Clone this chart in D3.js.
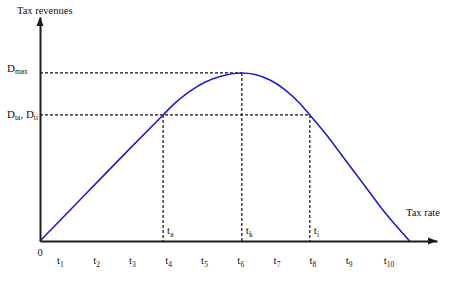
<!DOCTYPE html>
<html>
<head>
<meta charset="utf-8">
<script src="https://cdn.jsdelivr.net/npm/d3@7/dist/d3.min.js"></script>
<style>
  body { margin: 0; background: #fff; }
</style>
</head>
<body>
<svg id="chart" width="474" height="289" style="font-family: 'Liberation Serif', 'Times New Roman', 'DejaVu Serif', serif;"></svg>
<script>
// ---- data (tax rate 0..100 where revenue returns to zero; revenue 0..100 = Dmax) ----
const curveRate    = [0, 8.1, 16.2, 24.3, 33.3, 36.5, 40.6, 44.6, 48.7, 54.6, 58.2, 62.2, 66.3, 69.8, 73.0, 77.1, 82.5, 87.9, 93.3, 100];
const curveRevenue = [0, 18.3, 36.7, 55.0, 75.0, 82.0, 89.2, 94.5, 97.9, 100, 99.1, 95.8, 90.0, 83.0, 75.0, 64.3, 48.5, 32.7, 16.9, 0];
const markRates    = [33.3, 54.6, 73.0];          // t_a, t_k, t_i
const markNames    = ["a", "k", "i"];
const markRevenue  = [75, 100, 75];               // D_ta, D_max, D_ti
const levelRevenue = [100, 75];                   // Dmax, Dta/Dti
const tickPos      = [5.4, 15.2, 24.9, 34.7, 44.4, 54.2, 64.0, 73.7, 83.5, 93.8];
const tickSubs     = ["1","2","3","4","5","6","7","8","9","10"];

const FONT = "'Liberation Serif', 'Times New Roman', 'DejaVu Serif', serif";
const svg = d3.select("#chart");
const x = d3.scaleLinear().domain([0, 107.4]).range([40, 437]);
const y = d3.scaleLinear().domain([0, 133.3]).range([241, 17]);

const axisColor = "#1c1c1c";
const dash = "3,2";

// horizontal guides
levelRevenue.forEach((v, i) => {
  const xEnd = i === 0 ? markRates[1] : markRates[2];
  svg.append("line")
    .attr("x1", x(0)).attr("x2", x(xEnd))
    .attr("y1", y(v)).attr("y2", y(v))
    .attr("stroke", "#111").attr("stroke-width", 1.2).attr("stroke-dasharray", dash);
});
// vertical guides
markRates.forEach((r, i) => {
  svg.append("line")
    .attr("x1", x(r)).attr("x2", x(r))
    .attr("y1", y(markRevenue[i])).attr("y2", y(0))
    .attr("stroke", "#111").attr("stroke-width", 1.2).attr("stroke-dasharray", dash);
});

// curve
const pts = curveRate.map((r, i) => [r, curveRevenue[i]]);
svg.append("path")
  .datum(pts)
  .attr("fill", "none")
  .attr("stroke", "#1f1fc8")
  .attr("stroke-width", 1.6)
  .attr("d", d3.line().x(d => x(d[0])).y(d => y(d[1])).curve(d3.curveMonotoneX));

// axes
svg.append("g").attr("transform", `translate(0,${y(0)})`)
  .call(d3.axisBottom(x).tickValues([]).tickSizeOuter(0));
svg.append("g").attr("transform", `translate(${x(0)},0)`)
  .call(d3.axisLeft(y).tickValues([]).tickSizeOuter(0));
svg.selectAll(".domain").attr("stroke", axisColor).attr("stroke-width", 2);

// arrowheads
const xr = x.range()[1], yt = y.range()[1];
svg.append("path")
  .attr("d", `M${xr},${y(0)} L${xr - 9},${y(0) - 3.5} L${xr - 9},${y(0) + 3.5} Z`)
  .attr("fill", axisColor);
svg.append("path")
  .attr("d", `M${x(0)},${yt} L${x(0) - 3.5},${yt + 9} L${x(0) + 3.5},${yt + 9} Z`)
  .attr("fill", axisColor);

function txt(px, py, size) {
  return svg.append("text").attr("x", px).attr("y", py)
    .attr("font-size", size || 10.5).attr("font-family", FONT).attr("fill", "#111");
}

// axis titles
txt(17, 14).text("Tax revenues");
txt(406, 216).text("Tax rate");
// origin
txt(x(0), 256).attr("text-anchor", "middle").text("0");

function subLabel(px, py, main, sub) {
  const t = txt(px, py, 11);
  t.append("tspan").text(main);
  t.append("tspan").attr("font-size", 7.5).attr("dy", 2.5).text(sub);
  return t;
}

// D labels
subLabel(7, y(levelRevenue[0]) - 1, "D", "max");
{
  const t = txt(7, y(levelRevenue[1]) + 3, 11);
  t.append("tspan").text("D");
  t.append("tspan").attr("font-size", 7.5).attr("dy", 2.5).text("ta");
  t.append("tspan").attr("dy", -2.5).text(", D");
  t.append("tspan").attr("font-size", 7.5).attr("dy", 2.5).text("ti");
}

// marked rates t_a, t_k, t_i
markRates.forEach((r, i) => subLabel(x(r) + 4, y(0) - 7, "t", markNames[i]));

// tick labels t1..t10
tickPos.forEach((p, i) => subLabel(x(p) - 3, 264, "t", tickSubs[i]));
</script>
</body>
</html>
